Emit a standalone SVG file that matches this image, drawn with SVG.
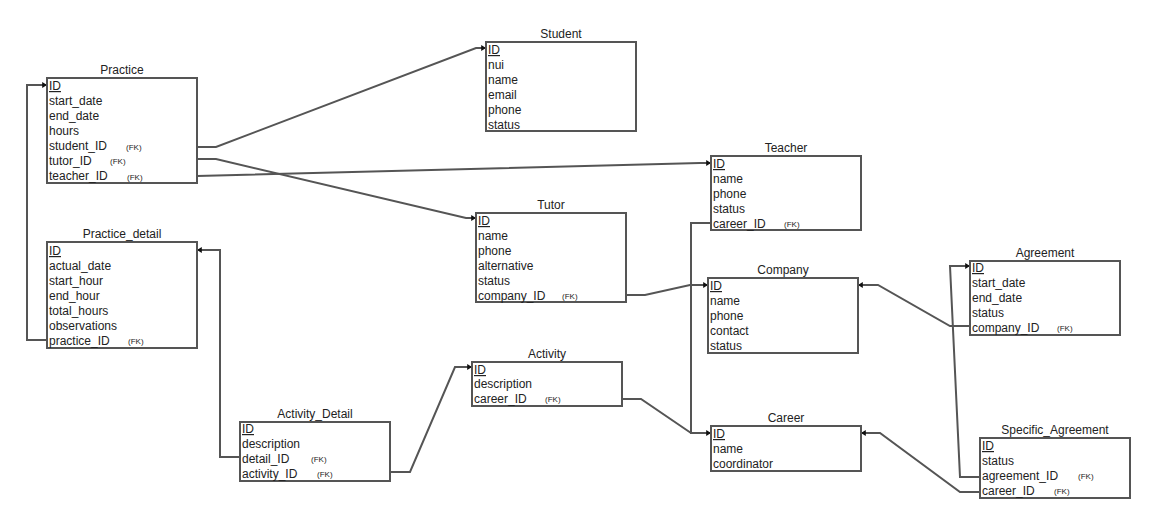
<svg xmlns="http://www.w3.org/2000/svg" width="1156" height="526" viewBox="0 0 1156 526">
<style>
rect.b{fill:#fff;stroke:#555;stroke-width:2}
text{font-family:"Liberation Sans",Arial,sans-serif;font-size:12px;fill:#222}
.t{text-anchor:middle}
.fk{font-size:8px}
.id{text-decoration:underline}
.c{fill:none;stroke:#555;stroke-width:2}
</style>
<defs><marker id="a" viewBox="0 0 8 10" refX="8" refY="5" markerWidth="5" markerHeight="6" orient="auto" markerUnits="userSpaceOnUse"><path d="M0,0L8,5L0,10z" fill="#111"/></marker></defs>
<rect width="1156" height="526" fill="#fff"/>
<g id="connectors">
<polyline class="c" marker-end="url(#a)" points="197,147 216,147 476,48 486,48"/>
<polyline class="c" marker-end="url(#a)" points="197,159 216,159 466,218 476,218"/>
<polyline class="c" marker-end="url(#a)" points="197,176 700,163 711,163"/>
<polyline class="c" marker-end="url(#a)" points="47,340 27,340 27,85 47,85"/>
<polyline class="c" marker-end="url(#a)" points="390,472 410,472 455,367 472,367"/>
<polyline class="c" marker-end="url(#a)" points="240,457 220,457 220,250 197,250"/>
<polyline class="c" marker-end="url(#a)" points="626,295 645,295 690,285 708,285"/>
<polyline class="c" marker-end="url(#a)" points="711,223 691,223 691,433 711,433"/>
<polyline class="c" points="622,399 641,399 691,433"/>
<polyline class="c" marker-end="url(#a)" points="970,326 950,326 878,285 858,285"/>
<polyline class="c" marker-end="url(#a)" points="980,492 960,492 880,433 861,433"/>
<polyline class="c" marker-end="url(#a)" points="980,477 960,477 950,266 970,266"/>
</g>
<g id="Practice"><text class="t" x="122" y="74">Practice</text><rect class="b" x="47" y="78" width="150" height="105"/>
<text x="49" y="90" class="id">ID</text><text x="49" y="105">start_date</text><text x="49" y="120">end_date</text><text x="49" y="135">hours</text><text x="49" y="150">student_ID</text><text x="126" y="150" class="fk">(FK)</text><text x="49" y="165">tutor_ID</text><text x="110" y="164" class="fk">(FK)</text><text x="49" y="180">teacher_ID</text><text x="127" y="180" class="fk">(FK)</text></g>
<g id="Student"><text class="t" x="561" y="38">Student</text><rect class="b" x="486" y="42" width="150" height="89"/>
<text x="488" y="54" class="id">ID</text><text x="488" y="69">nui</text><text x="488" y="84">name</text><text x="488" y="99">email</text><text x="488" y="114">phone</text><text x="488" y="129">status</text></g>
<g id="Teacher"><text class="t" x="786" y="152">Teacher</text><rect class="b" x="711" y="156" width="150" height="74"/>
<text x="713" y="168" class="id">ID</text><text x="713" y="183">name</text><text x="713" y="198">phone</text><text x="713" y="213">status</text><text x="713" y="228">career_ID</text><text x="784" y="227" class="fk">(FK)</text></g>
<g id="Tutor"><text class="t" x="551" y="209">Tutor</text><rect class="b" x="476" y="213" width="150" height="89"/>
<text x="478" y="225" class="id">ID</text><text x="478" y="240">name</text><text x="478" y="255">phone</text><text x="478" y="270">alternative</text><text x="478" y="285">status</text><text x="478" y="300">company_ID</text><text x="562" y="299" class="fk">(FK)</text></g>
<g id="Practice_detail"><text class="t" x="122" y="238">Practice_detail</text><rect class="b" x="47" y="242" width="150" height="106"/>
<text x="49" y="255" class="id">ID</text><text x="49" y="270">actual_date</text><text x="49" y="285">start_hour</text><text x="49" y="300">end_hour</text><text x="49" y="315">total_hours</text><text x="49" y="330">observations</text><text x="49" y="345">practice_ID</text><text x="128" y="344" class="fk">(FK)</text></g>
<g id="Company"><text class="t" x="783" y="274">Company</text><rect class="b" x="708" y="278" width="150" height="75"/>
<text x="710" y="290" class="id">ID</text><text x="710" y="305">name</text><text x="710" y="320">phone</text><text x="710" y="335">contact</text><text x="710" y="350">status</text></g>
<g id="Agreement"><text class="t" x="1045" y="257">Agreement</text><rect class="b" x="970" y="261" width="150" height="74"/>
<text x="972" y="272" class="id">ID</text><text x="972" y="287">start_date</text><text x="972" y="302">end_date</text><text x="972" y="317">status</text><text x="972" y="332">company_ID</text><text x="1057" y="331" class="fk">(FK)</text></g>
<g id="Career"><text class="t" x="786" y="422">Career</text><rect class="b" x="711" y="426" width="150" height="45"/>
<text x="713" y="438" class="id">ID</text><text x="713" y="453">name</text><text x="713" y="468">coordinator</text></g>
<g id="Activity"><text class="t" x="547" y="358">Activity</text><rect class="b" x="472" y="362" width="150" height="44"/>
<text x="474" y="374" class="id">ID</text><text x="474" y="388">description</text><text x="474" y="403">career_ID</text><text x="545" y="402" class="fk">(FK)</text></g>
<g id="Activity_Detail"><text class="t" x="315" y="418">Activity_Detail</text><rect class="b" x="240" y="422" width="150" height="59"/>
<text x="242" y="433" class="id">ID</text><text x="242" y="448">description</text><text x="242" y="463">detail_ID</text><text x="311" y="462" class="fk">(FK)</text><text x="242" y="478">activity_ID</text><text x="317" y="477" class="fk">(FK)</text></g>
<g id="Specific_Agreement"><text class="t" x="1055" y="434">Specific_Agreement</text><rect class="b" x="980" y="438" width="150" height="60"/>
<text x="982" y="450" class="id">ID</text><text x="982" y="465">status</text><text x="982" y="480">agreement_ID</text><text x="1078" y="479" class="fk">(FK)</text><text x="982" y="495">career_ID</text><text x="1054" y="494" class="fk">(FK)</text></g>
</svg>
